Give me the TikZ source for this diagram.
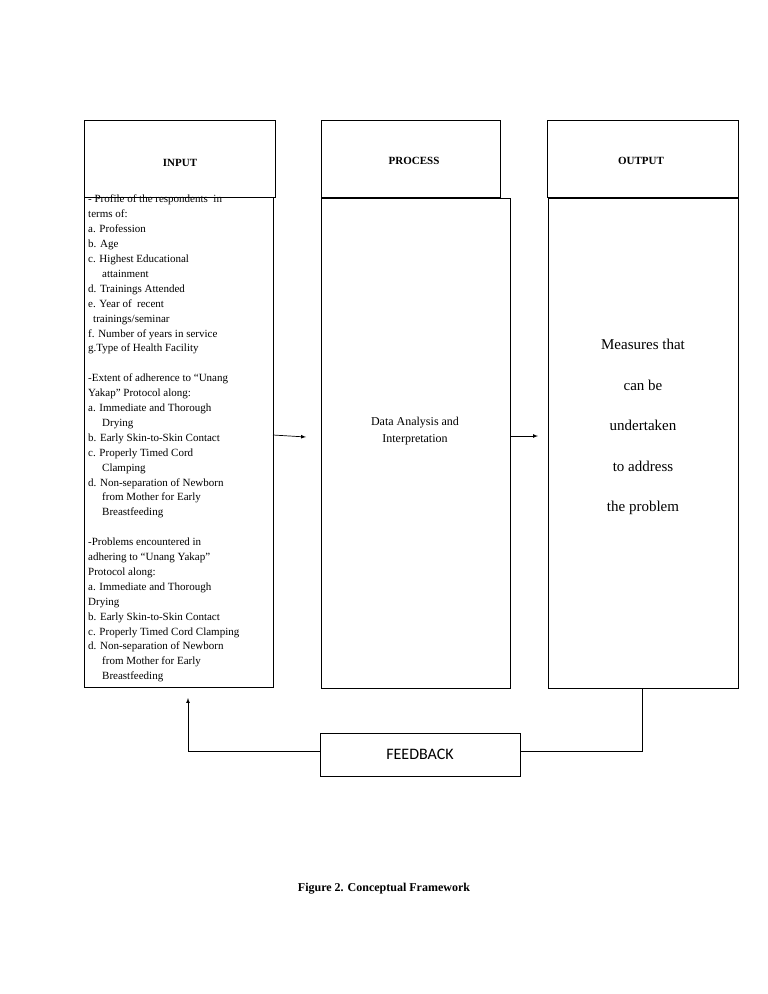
\documentclass[tikz,border=0pt]{standalone}
\usepackage{fontspec}
\setmainfont{Liberation Serif}
\newfontfamily\calib{Carlito}
\begin{document}
\begin{tikzpicture}[x=1pt,y=-1pt,
  box/.style={draw,line width=0.8pt},
  arr/.style={-latex,line width=0.7pt},
  hdr/.style={font=\fontsize{11}{13}\selectfont\bfseries}]
\useasboundingbox (0,0) rectangle (768,994);
\draw[box] (84,120) rectangle (275,197);
\draw[box] (321,120) rectangle (500,197);
\draw[box] (547,120) rectangle (738,197);
\node[hdr] (hin) at (180,163) {INPUT};
\node[hdr] (hpr) at (414,161) {PROCESS};
\node[hdr] (hout) at (641,161) {OUTPUT};
\node[box,minimum width=189pt,minimum height=490pt,anchor=north west,inner sep=0] (in) at (84,197) {};
\node[box,minimum width=189pt,minimum height=490pt,anchor=north west,inner sep=0] (pr) at (321,198) {};
\node[box,minimum width=190pt,minimum height=490pt,anchor=north west,inner sep=0] (out) at (548,198) {};
\node[anchor=north west,align=left,inner sep=0,font=\fontsize{11}{14.9}\selectfont] at (88,195) {%
- Profile of the respondents\ \ in\\
terms of:\\
a. Profession\\
b. Age\\
c. Highest Educational\\
\hspace{14pt}attainment\\
d. Trainings Attended\\
e. Year of\ \ recent\\
\hspace{5pt}trainings/seminar\\
f. Number of years in service\\
g.Type of Health Facility\\[14.9pt]
-Extent of adherence to ``Unang\\
Yakap'' Protocol along:\\
a. Immediate and Thorough\\
\hspace{14pt}Drying\\
b. Early Skin-to-Skin Contact\\
c. Properly Timed Cord\\
\hspace{14pt}Clamping\\
d. Non-separation of Newborn\\
\hspace{14pt}from Mother for Early\\
\hspace{14pt}Breastfeeding\\[14.9pt]
-Problems encountered in\\
adhering to ``Unang Yakap''\\
Protocol along:\\
a. Immediate and Thorough\\
Drying\\
b. Early Skin-to-Skin Contact\\
c. Properly Timed Cord Clamping\\
d. Non-separation of Newborn\\
\hspace{14pt}from Mother for Early\\
\hspace{14pt}Breastfeeding};
\node[align=center,font=\fontsize{12}{17}\selectfont] (pt) at (415,431) {Data Analysis and\\Interpretation};
\node[align=center,font=\fontsize{15}{40.5}\selectfont] (ot) at (643,427) {Measures that\\can be\\undertaken\\to address\\the problem};
\coordinate (a1s) at (273,435); \coordinate (a1e) at (306,437);
\draw[arr] (a1s) -- (a1e);
\coordinate (a2s) at (511,436); \coordinate (a2e) at (538,436);
\draw[arr] (a2s) -- (a2e);
\node[box,minimum width=200pt,minimum height=43pt,inner sep=0,font=\calib\fontsize{16}{18}\selectfont] (fb) at (420,754.5) {FEEDBACK};
\coordinate (c1) at (642,688); \coordinate (c2) at (642,751);
\draw[line width=0.7pt] (c1) -- (c2) -- (fb.east |- c2);
\coordinate (c3) at (188,751); \coordinate (c4) at (188,698);
\draw[arr] (fb.west |- c3) -- (c3) -- (c4);
\node[font=\fontsize{12}{14}\selectfont\bfseries] (cap) at (384,889) {Figure 2. Conceptual Framework};
\end{tikzpicture}
\end{document}
